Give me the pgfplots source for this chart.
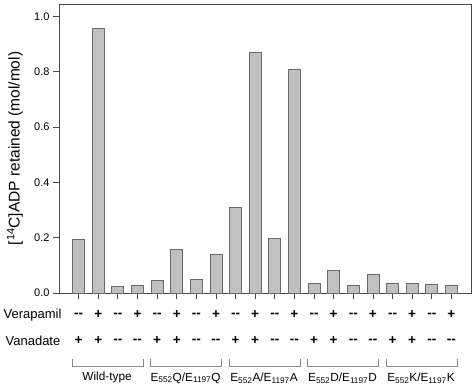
\documentclass[border=0pt]{standalone}
\usepackage{fontspec}
\setmainfont{Liberation Sans}
\usepackage{pgfplots}
\pgfplotsset{compat=1.18}
\definecolor{barfill}{HTML}{C0C0C0}
\definecolor{baredge}{HTML}{6A6A6A}
\definecolor{axgray}{HTML}{4A4A4A}
\definecolor{brgray}{HTML}{8A8A8A}
\tikzset{grplab/.style={font=\fontsize{11.8}{13}\selectfont},
  pm/.style={font=\fontsize{13.5}{15}\selectfont\bfseries}}
\begin{document}
\begin{tikzpicture}
\begin{axis}[
  scale only axis, width=412pt, height=289pt,
  xmin=-1, xmax=20, ymin=0, ymax=1.045,
  ybar, bar width=12pt,
  clip=false,
  axis line style={axgray, line width=0.9pt},
  every tick/.style={axgray, line width=0.8pt},
  tick align=outside, major tick length=6pt,
  xtick pos=bottom, ytick pos=left,
  xtick={0,...,19}, xticklabels={},
  ytick={0,0.2,0.4,0.6,0.8,1.0},
  yticklabel style={/pgf/number format/fixed, /pgf/number format/fixed zerofill, /pgf/number format/precision=1, font=\fontsize{11}{13}\selectfont},
  /pgf/number format/assume math mode=true,
  ylabel={[\textsuperscript{14}C]ADP retained (mol/mol)},
  ylabel style={at={(rel axis cs:-0.107,0.5)}, anchor=center, font=\fontsize{15.5}{18}\selectfont},
]
\addplot[fill=barfill, draw=baredge, line width=0.8pt] coordinates {
(0,0.194) (1,0.957) (2,0.025) (3,0.027)
(4,0.046) (5,0.157) (6,0.050) (7,0.140)
(8,0.310) (9,0.870) (10,0.197) (11,0.810)
(12,0.034) (13,0.081) (14,0.026) (15,0.066)
(16,0.034) (17,0.036) (18,0.032) (19,0.029)
};
\path (rel axis cs:-0.1432,-0.3253) rectangle (rel axis cs:1.0073,1.0138);
\node[anchor=west, inner sep=0pt, font=\fontsize{13}{15}\selectfont] at (axis cs:-3.83,-0.0796) {Verapamil};
\node[anchor=west, inner sep=0pt, font=\fontsize{13}{15}\selectfont] at (axis cs:-3.73,-0.1736) {Vanadate};
\pgfplotsinvokeforeach{0,4,8,12,16}{
  \node[pm] at (axis cs:#1,-0.0796) {{-}{-}};
  \node[pm] at (axis cs:#1+1,-0.0796) {+};
  \node[pm] at (axis cs:#1+2,-0.0796) {{-}{-}};
  \node[pm] at (axis cs:#1+3,-0.0796) {+};
  \node[pm] at (axis cs:#1,-0.1736) {+};
  \node[pm] at (axis cs:#1+1,-0.1736) {+};
  \node[pm] at (axis cs:#1+2,-0.1736) {{-}{-}};
  \node[pm] at (axis cs:#1+3,-0.1736) {{-}{-}};
  \draw[brgray, line width=0.8pt] (axis cs:#1-0.32,-0.2387) -- (axis cs:#1-0.32,-0.264) -- (axis cs:#1+3.3,-0.264) -- (axis cs:#1+3.3,-0.2387);
}
\node[grplab] at (axis cs:1.45,-0.307) {Wild-type};
\node[grplab] at (axis cs:5.45,-0.307) {E\textsubscript{552}Q/E\textsubscript{1197}Q};
\node[grplab] at (axis cs:9.45,-0.307) {E\textsubscript{552}A/E\textsubscript{1197}A};
\node[grplab] at (axis cs:13.45,-0.307) {E\textsubscript{552}D/E\textsubscript{1197}D};
\node[grplab] at (axis cs:17.45,-0.307) {E\textsubscript{552}K/E\textsubscript{1197}K};
\end{axis}
\end{tikzpicture}
\end{document}
